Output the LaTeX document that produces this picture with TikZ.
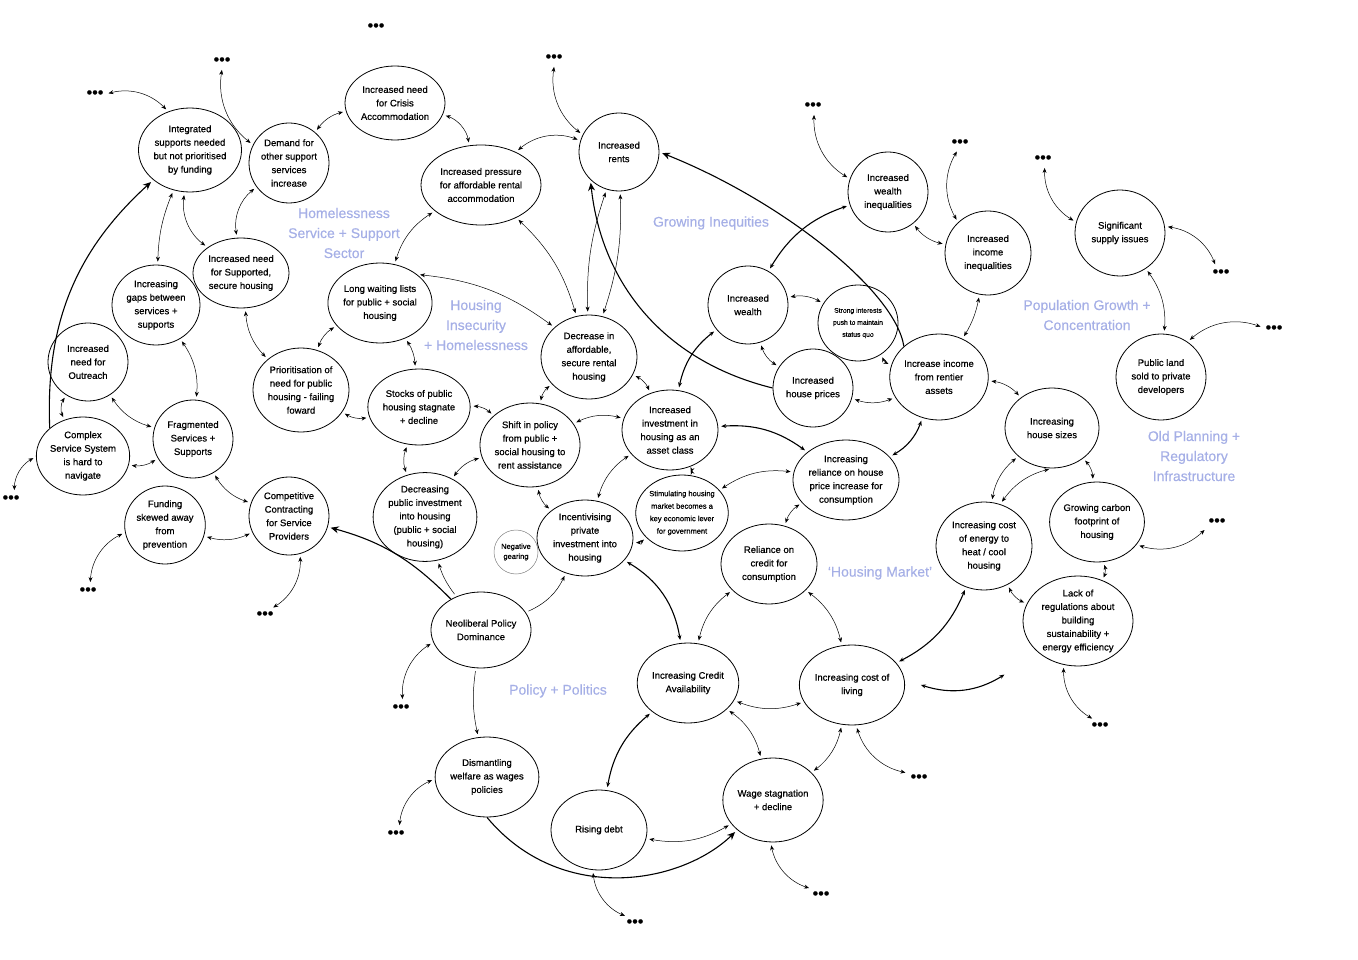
\documentclass[tikz,border=0pt]{standalone}
\usepackage{fontspec}
\setmainfont{Liberation Sans}[FakeBold=0.6]
\newfontfamily\grpfont{Liberation Sans}[FakeBold=0.4]
\usetikzlibrary{shapes.geometric,arrows.meta}
\definecolor{grpc}{RGB}{165,175,230}
\begin{document}
\begin{tikzpicture}[x=1pt,y=-1pt,
  el/.style={ellipse,draw,line width=0.8pt,inner sep=0pt,align=center,font=\fontsize{9.5}{13.5}\selectfont},
  grp/.style={text=grpc,align=center,font=\grpfont\fontsize{14}{20}\selectfont},
  dots/.style={font=\fontsize{16}{16}\selectfont,inner sep=2pt},
  a/.style={<->,>={Stealth[length=5pt,width=4pt]},line width=0.5pt,shorten <=3pt,shorten >=3pt},
  ta/.style={a,line width=1.1pt},
  to1/.style={->,>={Stealth[length=8pt,width=7pt]},line width=1.1pt,shorten >=3pt}]
\useasboundingbox (0,0) rectangle (1358,960);
\newcommand\E[6]{\node[el,minimum width=#4,minimum height=#5] (#1) at (#2,#3) {#6};}
\E{int}{190}{150}{100}{84}{Integrated\\supports needed\\but not prioritised\\by funding}
\E{dem}{289}{163}{80}{80}{Demand for\\other support\\services\\increase}
\E{crisis}{395}{103}{100}{74}{Increased need\\for Crisis\\Accommodation}
\E{press}{481}{185}{120}{80}{Increased pressure\\for affordable rental\\accommodation}
\E{rents}{619}{152}{80}{78}{Increased\\rents}
\E{supp}{241}{273}{96}{70}{Increased need\\for Supported,\\secure housing}
\E{gaps}{156}{305}{88}{80}{Increasing\\gaps between\\services +\\supports}
\E{outreach}{88}{362}{80}{78}{Increased\\need for\\Outreach}
\E{complex}{83}{456}{80}{78}{Complex\\Service System\\is hard to\\navigate}
\E{frag}{193}{439}{80}{78}{Fragmented\\Services +\\Supports}
\E{funding}{165}{525}{80}{78}{Funding\\skewed away\\from\\prevention}
\E{comp}{289}{516}{80}{78}{Competitive\\Contracting\\for Service\\Providers}
\E{long}{380}{303}{100}{80}{Long waiting lists\\for public + social\\housing}
\E{prior}{301}{390}{96}{84}{Prioritisation of\\need for public\\housing - failing\\foward}
\E{stocks}{419}{407}{96}{76}{Stocks of public\\housing stagnate\\+ decline}
\E{decafford}{589}{357}{96}{84}{Decrease in\\affordable,\\secure rental\\housing}
\E{shift}{530}{445}{100}{84}{Shift in policy\\from public +\\social housing to\\rent assistance}
\E{decinv}{425}{517}{96}{84}{Decreasing\\public investment\\into housing\\(public + social\\housing)}
\node[el,draw=gray,line width=0.5pt,minimum width=44,minimum height=44,font=\fontsize{7.5}{10}\selectfont] (neg) at (516,552) {Negative\\gearing};
\E{incent}{585}{538}{96}{76}{Incentivising\\private\\investment into\\housing}
\E{neolib}{481}{630}{96}{76}{Neoliberal Policy\\Dominance}
\E{invest}{670}{430}{96}{80}{Increased\\investment in\\housing as an\\asset class}
\node[el,minimum width=90,minimum height=76,font=\fontsize{7.5}{12.5}\selectfont] (stim) at (682,513) {Stimulating housing\\market becomes a\\key economic lever\\for government};
\E{wealth}{748}{305}{80}{78}{Increased\\wealth}
\node[el,minimum width=80,minimum height=76,font=\fontsize{6.8}{12}\selectfont] (strong) at (858,323) {Strong interests\\push to maintain\\status quo};
\E{hprices}{813}{388}{80}{78}{Increased\\house prices}
\E{wealthineq}{888}{192}{80}{80}{Increased\\wealth\\inequalities}
\E{incineq}{988}{253}{86}{84}{Increased\\income\\inequalities}
\E{rentier}{939}{377}{86}{86}{Increase income\\from rentier\\assets}
\E{reliance}{846}{480}{96}{80}{Increasing\\reliance on house\\price increase for\\consumption}
\E{credit}{769}{564}{96}{80}{Reliance on\\credit for\\consumption}
\E{supply}{1120}{233}{90}{86}{Significant\\supply issues}
\E{publand}{1161}{377}{90}{86}{Public land\\sold to private\\developers}
\E{hsizes}{1052}{428}{94}{80}{Increasing\\house sizes}
\E{energy}{984}{546}{96}{88}{Increasing cost\\of energy to\\heat / cool\\housing}
\E{carbon}{1097}{522}{94}{80}{Growing carbon\\footprint of\\housing}
\E{lack}{1078}{621}{110}{90}{Lack of\\regulations about\\building\\sustainability +\\energy efficiency}
\E{credavail}{688}{683}{96}{80}{Increasing Credit\\Availability}
\E{costliv}{852}{685}{96}{80}{Increasing cost of\\living}
\E{dismantle}{487}{777}{96}{80}{Dismantling\\welfare as wages\\policies}
\E{debt}{599}{830}{96}{80}{Rising debt}
\E{wage}{773}{800}{96}{84}{Wage stagnation\\+ decline}
% group labels
\node[grp] (g1) at (344,233) {Homelessness\\Service + Support\\Sector};
\node[grp] (g2) at (476,325) {Housing\\Insecurity\\+ Homelessness};
\node[grp] (g3) at (711,223) {Growing Inequities};
\node[grp] (g4) at (1087,315) {Population Growth +\\Concentration};
\node[grp] (g5) at (1194,456) {Old Planning +\\Regulatory\\Infrastructure};
\node[grp] (g6) at (880,573) {‘Housing Market’};
\node[grp] (g7) at (558,691) {Policy + Politics};
% dots
\foreach \n/\x/\y in {d1/376/27,d2/222/61,d3/95/94,d4/554/58,d5/813/106,d6/960/143,d7/1043/159,d8/1221/273,d9/1274/329,d10/11/499,d11/1217/522,d12/88/591,d13/265/615,d14/401/708,d15/1100/726,d16/919/778,d17/396/834,d18/821/895,d19/635/923}
  \node[dots] (\n) at (\x,\y) {•••};
\coordinate (k1) at (918,684);
\coordinate (k2) at (1007,673);
% connectors
\draw[a] (int) to[bend right=30] (d3);
\draw[a] (int) to[bend right=10] (gaps);
\draw[a] (int) to[bend right=30] (supp);
\draw[to1] (complex.north west) to[bend left=25] (int.south west);
\draw[a] (dem) to[bend left=30] (d2);
\draw[a] (dem) to[bend left=20] (crisis);
\draw[a] (dem) to[bend right=30] (supp);
\draw[a] (crisis) to[bend left=30] (press);
\draw[a] (press) to[bend left=30] (rents);
\draw[a] (rents) to[bend left=30] (d4);
\draw[a] (press) to[bend right=20] (long);
\draw[a] (press) to[bend left=15] (decafford);
\draw[a] (rents) to[bend right=10] (decafford);
\draw[a] (rents) to[bend left=10] (decafford);
\draw[a] (long.north east) to[bend left=15] (decafford);
\draw[a] (long) to[bend right=20] (prior);
\draw[a] (long) to[bend left=15] (stocks);
\draw[a] (prior) to[bend right=20] (stocks);
\draw[a] (supp) to[bend right=20] (prior);
\draw[a] (gaps) to[bend left=20] (frag);
\draw[a] (outreach) to[bend right=30] (complex);
\draw[a] (outreach) to[bend right=20] (frag);
\draw[a] (complex) to[bend right=20] (frag);
\draw[a] (complex) to[bend right=30] (d10);
\draw[a] (frag) to[bend right=20] (comp);
\draw[a] (funding) to[bend right=20] (comp);
\draw[a] (funding) to[bend right=30] (d12);
\draw[a] (comp) to[bend left=30] (d13);
\draw[to1] (neolib) to[bend right=15] (comp);
\draw[a,<-] (decinv) to[bend right=10] (neolib);
\draw[a,->] (neolib) to[bend right=20] (incent);
\draw[a] (neolib) to[bend right=30] (d14);
\draw[a,->] (neolib) to[bend right=10] (dismantle);
\draw[a] (dismantle) to[bend right=30] (d17);
\draw[to1] (dismantle.south) .. controls (560,905) and (680,885) .. (wage.south west);
\draw[a] (stocks) to[bend right=20] (decinv);
\draw[a] (stocks) to[bend left=20] (shift);
\draw[a] (shift) to[bend left=20] (decafford);
\draw[a] (shift) to[bend left=20] (invest);
\draw[a] (shift) to[bend right=20] (decinv);
\draw[a] (shift) to[bend right=20] (incent);
\draw[a] (decafford) to[bend left=20] (invest);
\draw[a] (incent) to[bend left=20] (invest);
\draw[a] (incent) to[bend right=20] (stim);
\draw[ta] (incent) to[bend left=25] (credavail);
\draw[ta] (invest) to[bend left=20] (wealth);
\draw[ta] (invest) to[bend left=20] (reliance);
\draw[a] (stim) to[bend left=20] (reliance);
\draw[a] (stim) to[bend right=20] (invest);
\draw[a] (wealth) to[bend left=20] (strong);
\draw[a] (wealth) to[bend right=20] (hprices);
\draw[a] (hprices) to[bend right=20] (rentier);
\draw[to1] (hprices.west) to[bend left=35] (rents.south west);
\draw[to1] (rentier.north west) .. controls (895,290) and (780,200) .. (rents.east);
\draw[ta] (wealthineq) to[bend right=20] (wealth);
\draw[a] (wealthineq) to[bend left=30] (d5);
\draw[a] (wealthineq) to[bend right=20] (incineq);
\draw[a] (incineq) to[bend left=30] (d6);
\draw[a] (incineq) to[bend left=10] (rentier);
\draw[a] (rentier) to[bend left=20] (strong);
\draw[ta] (rentier) to[bend left=20] (reliance);
\draw[a] (rentier) to[bend left=20] (hsizes);
\draw[a] (supply) to[bend left=30] (d7);
\draw[a] (supply) to[bend left=30] (d8);
\draw[a] (supply) to[bend left=20] (publand);
\draw[a] (publand) to[bend left=30] (d9);
\draw[a] (hsizes) to[bend right=20] (energy);
\draw[a] (hsizes) to[bend left=20] (carbon);
\draw[a] (energy) to[bend left=20] (hsizes.south);
\draw[a] (carbon) to[bend right=30] (d11);
\draw[a] (carbon) to[bend left=20] (lack);
\draw[a] (energy) to[bend right=20] (lack);
\draw[a] (lack) to[bend right=30] (d15);
\draw[ta] (energy) to[bend left=20] (costliv);
\draw[ta] (k1) to[bend right=25] (k2);
\draw[a] (reliance) to[bend right=20] (credit);
\draw[a] (credit) to[bend right=20] (credavail);
\draw[a] (credit) to[bend left=20] (costliv);
\draw[a] (credavail) to[bend right=20] (costliv);
\draw[a] (credavail) to[bend left=20] (wage);
\draw[ta] (credavail) to[bend right=20] (debt);
\draw[a] (debt) to[bend right=20] (wage);
\draw[a] (wage) to[bend right=20] (costliv);
\draw[a] (wage) to[bend right=30] (d18);
\draw[a] (costliv) to[bend right=30] (d16);
\draw[a] (debt) to[bend right=30] (d19);
\end{tikzpicture}
\end{document}
